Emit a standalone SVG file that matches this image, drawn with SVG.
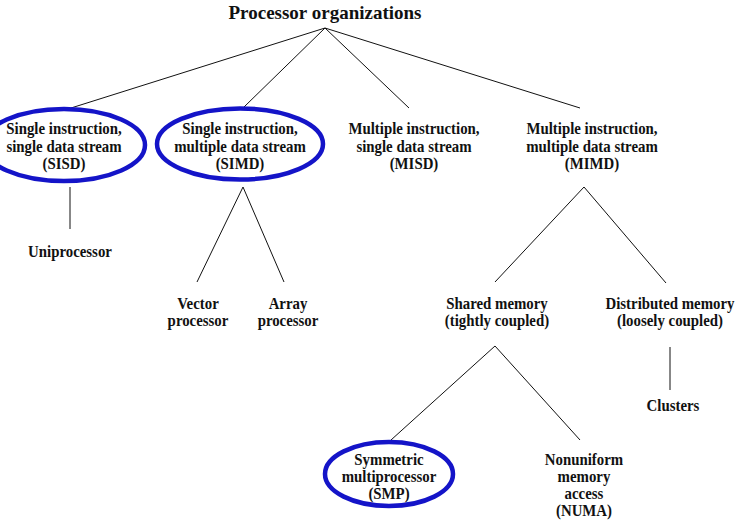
<svg xmlns="http://www.w3.org/2000/svg" width="738" height="521" viewBox="0 0 738 521">
<style>
text{font-family:"Liberation Serif","Times New Roman",serif;font-weight:bold;font-size:16.5px;fill:#111;text-anchor:middle}
.title{font-size:19px}
.conn line{stroke:#111;stroke-width:1}
.hl{fill:none;stroke:#1414c8;stroke-width:4.5}
</style>
<rect width="738" height="521" fill="#fff"/>
<g id="connectors" class="conn">
<line x1="325" y1="28" x2="71" y2="108"/>
<line x1="325" y1="28" x2="244" y2="107"/>
<line x1="325" y1="28" x2="409" y2="108"/>
<line x1="325" y1="28" x2="580" y2="108"/>
<line x1="70" y1="187" x2="70" y2="229"/>
<line x1="243" y1="187" x2="197" y2="282"/>
<line x1="243" y1="187" x2="284" y2="282"/>
<line x1="584" y1="187" x2="495" y2="282"/>
<line x1="584" y1="187" x2="666" y2="283"/>
<line x1="495" y1="346" x2="391" y2="440"/>
<line x1="495" y1="346" x2="580" y2="440"/>
<line x1="670" y1="347" x2="670" y2="390"/>
</g>
<g id="root"><text class="title" x="325" y="18.5">Processor organizations</text></g>
<g id="sisd">
<ellipse class="hl" cx="64" cy="145" rx="81" ry="36"/>
<g transform="matrix(0.9 0 0 1 6.4 0)">
<text x="64" y="134.5">Single instruction,</text>
<text x="64" y="152">single data stream</text>
<text x="64" y="169.5">(SISD)</text>
</g>
</g>
<g id="simd">
<ellipse class="hl" cx="240" cy="144" rx="83" ry="35.5"/>
<g transform="matrix(0.9 0 0 1 24 0)">
<text x="240" y="134.5">Single instruction,</text>
<text x="240" y="152">multiple data stream</text>
<text x="240" y="169.5">(SIMD)</text>
</g>
</g>
<g id="misd" transform="matrix(0.9 0 0 1 41.4 0)">
<text x="414" y="134.5">Multiple instruction,</text>
<text x="414" y="152">single data stream</text>
<text x="414" y="169.5">(MISD)</text>
</g>
<g id="mimd" transform="matrix(0.9 0 0 1 59.2 0)">
<text x="592" y="134.5">Multiple instruction,</text>
<text x="592" y="152">multiple data stream</text>
<text x="592" y="169.5">(MIMD)</text>
</g>
<g id="uniprocessor" transform="matrix(0.9 0 0 1 7 0)"><text x="70" y="257">Uniprocessor</text></g>
<g id="vector" transform="matrix(0.9 0 0 1 19.8 0)"><text x="198" y="309">Vector</text><text x="198" y="326">processor</text></g>
<g id="array" transform="matrix(0.9 0 0 1 28.8 0)"><text x="288" y="309">Array</text><text x="288" y="326">processor</text></g>
<g id="shared" transform="matrix(0.9 0 0 1 49.7 0)"><text x="497" y="309">Shared memory</text><text x="497" y="326">(tightly coupled)</text></g>
<g id="distributed" transform="matrix(0.9 0 0 1 67 0)"><text x="670" y="309">Distributed memory</text><text x="670" y="326">(loosely coupled)</text></g>
<g id="clusters" transform="matrix(0.9 0 0 1 67.3 0)"><text x="673" y="411">Clusters</text></g>
<g id="smp">
<ellipse class="hl" cx="389" cy="474" rx="64" ry="32"/>
<g transform="matrix(0.9 0 0 1 38.9 0)">
<text x="389" y="465">Symmetric</text>
<text x="389" y="482">multiprocessor</text>
<text x="389" y="499">(SMP)</text>
</g>
</g>
<g id="numa" transform="matrix(0.9 0 0 1 58.4 0)">
<text x="584" y="465">Nonuniform</text>
<text x="584" y="482">memory</text>
<text x="584" y="499">access</text>
<text x="584" y="516">(NUMA)</text>
</g>
</svg>
